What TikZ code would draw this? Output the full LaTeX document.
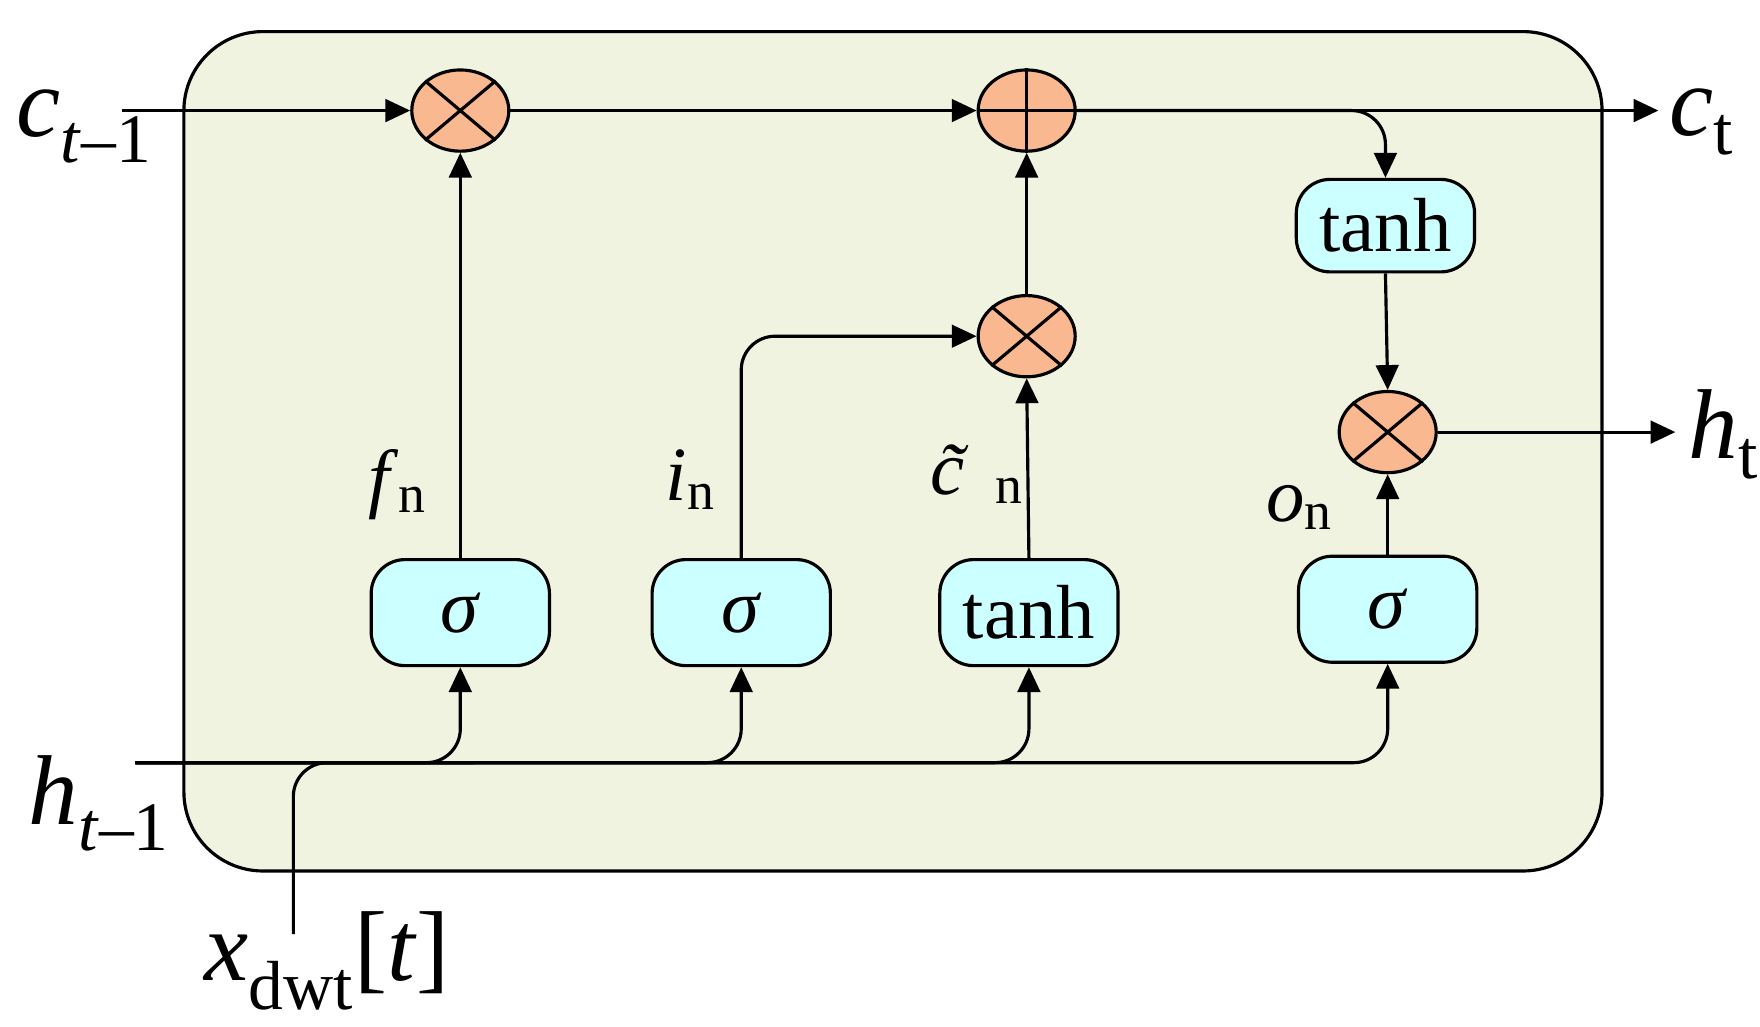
\documentclass[tikz,border=0pt]{standalone}
\usepackage{fontspec}
\setmainfont{Liberation Serif}
\usetikzlibrary{arrows.meta,shapes.geometric}
\definecolor{cellbg}{RGB}{239,243,224}
\definecolor{opfill}{RGB}{249,184,143}
\definecolor{gatefill}{RGB}{204,255,255}
\newcommand{\vsub}[2]{\textit{#1}\textsubscript{#2}}
\begin{document}
\begin{tikzpicture}[x=0.5pt,y=-0.5pt,line width=1.4pt,
  op/.style={ellipse,draw,fill=opfill,minimum width=43pt,minimum height=36pt,inner sep=0pt},
  gate/.style={draw,fill=gatefill,rounded corners=15pt,minimum width=79pt,minimum height=47pt,inner sep=0pt,font=\fontsize{34}{34}\selectfont},
  lab/.style={font=\fontsize{44}{44}\selectfont,inner sep=0pt},
  glab/.style={font=\fontsize{34}{34}\selectfont,inner sep=0pt},
  arr/.style={-{Triangle[length=11pt,width=10pt]}},
  rc/.style={rounded corners=15pt}]
\useasboundingbox (0,0) rectangle (1560,910);
\draw[fill=cellbg,rounded corners=35pt] (163,28) rectangle (1420,772);
% operators
\node[op] (m1) at (408,98) {};
\node[op] (a1) at (910,98) {};
\node[op] (m2) at (910,298) {};
\node[op] (m3) at (1230,383) {};
\foreach \n in {m1,m2,m3}{
  \draw (\n.north west) -- (\n.south east) (\n.north east) -- (\n.south west);}
\draw (a1.north) -- (a1.south) (a1.west) -- (a1.east);
% gates
\node[gate] (g1) at (408,543) {\textit{σ}};
\node[gate] (g2) at (657,543) {\textit{σ}};
\node[gate] (g3) at (912,543) {tanh};
\node[gate] (g4) at (1230,540) {\textit{σ}};
\node[gate,minimum height=41pt] (g5) at (1228,200) {tanh};
% labels
\node[lab] (cin) at (75,112) {\vsub{c}{\textit{t}–1}};
\node[lab] (cout) at (1508,108) {\vsub{c}{t}};
\node[lab] (hout) at (1528,385) {\vsub{h}{t}};
\node[lab] (hin) at (88,712) {\vsub{h}{\textit{t}–1}};
\node[lab] (x) at (290,852) {\textit{x}\textsubscript{dwt}[\textit{t}]};
\node[glab] at (352,430) {\vsub{f}{n}};
\node[glab] at (612,425) {\vsub{i}{n}};
\node[glab] at (866,420) {\vsub{\~{c}}{n}};
\node[glab] at (1152,450) {\vsub{o}{n}};
\coordinate (cs) at (108,98);
\coordinate (ce) at (1470,98);
\coordinate (hs) at (120,676);
\coordinate (xs) at (260,828);
\coordinate (he) at (1485,383);
% connectors
\draw[arr] (cs) -- (m1.west);
\draw[arr] (m1.east) -- (a1.west);
\draw[arr] (a1.east) -- (ce);
\draw[arr,rc] (a1.east) -| (g5.north);
\draw[arr] (g5.south) -- (m3.north);
\draw[arr] (m3.east) -- (he);
\draw[arr] (g1.north) -- (m1.south);
\draw[arr] (m2.north) -- (a1.south);
\draw[arr] (g3.north) -- (m2.south);
\draw[arr] (g4.north) -- (m3.south);
\draw[arr,rc] (g2.north) |- (m2.west);
\draw[arr,rc] (hs) -| (g4.south);
\draw[arr,rc] (hs) -| (g1.south);
\draw[arr,rc] (hs) -| (g2.south);
\draw[arr,rc] (hs) -| (g3.south);
\draw[rc] (xs) |- (420,676);
\end{tikzpicture}
\end{document}
